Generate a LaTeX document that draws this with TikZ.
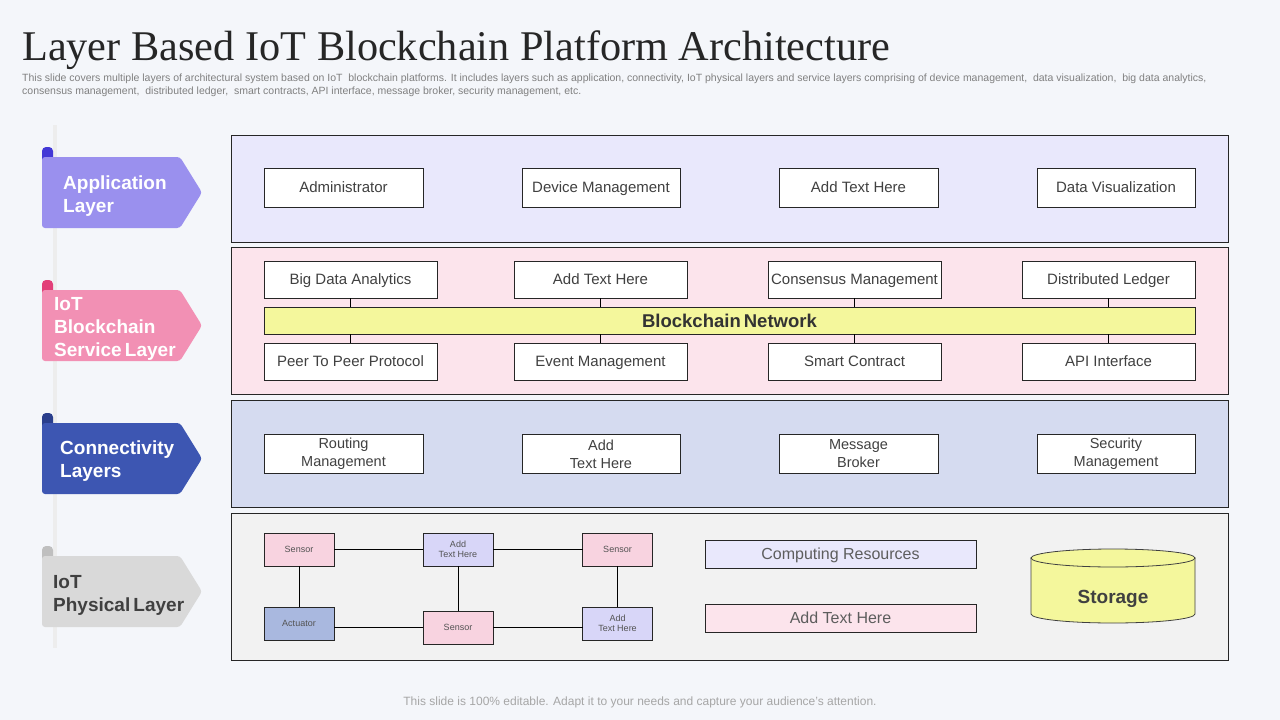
\documentclass[tikz,border=0pt]{standalone}
\usepackage{fontspec}
\setmainfont{Liberation Sans}
\newfontfamily\titlefont{Liberation Serif}
\definecolor{bgc}{HTML}{F4F6FA}
\definecolor{apptab}{HTML}{9A90EE}
\definecolor{apptop}{HTML}{4338D6}
\definecolor{apppan}{HTML}{E9E8FC}
\definecolor{svctab}{HTML}{F290B4}
\definecolor{svctop}{HTML}{E23F78}
\definecolor{svcpan}{HTML}{FCE4EC}
\definecolor{contab}{HTML}{3D56B2}
\definecolor{contop}{HTML}{2A3E8C}
\definecolor{conpan}{HTML}{D5DBF0}
\definecolor{phytab}{HTML}{D9D9D9}
\definecolor{phytop}{HTML}{BFBFBF}
\definecolor{phypan}{HTML}{F2F2F2}
\definecolor{ylw}{HTML}{F4F79C}
\definecolor{pinkb}{HTML}{F8D3E0}
\definecolor{lavb}{HTML}{D8D6F8}
\definecolor{actb}{HTML}{A9B8DF}
\definecolor{txt}{HTML}{404040}
\definecolor{titlec}{HTML}{262626}
\tikzset{
  panel/.style={draw=black!85, line width=0.9pt},
  wbox/.style={draw=black!85, line width=0.8pt, fill=white, text=txt, font=\fontsize{15}{17}\selectfont, align=center, inner sep=0pt, outer sep=0pt, minimum height=39pt},
  wone/.style={wbox, text height=10.8pt, text depth=0pt},
  sbox/.style={draw=black!85, line width=0.8pt, text=txt!90, font=\fontsize{9}{10.5}\selectfont, align=center, inner sep=0pt, outer sep=0pt, minimum width=70pt, minimum height=33pt},
  sone/.style={sbox, text height=6.5pt, text depth=0pt},
  conn/.style={draw=black, line width=0.8pt},
  tabtxt/.style={anchor=west, align=left, font=\bfseries\fontsize{19}{23}\selectfont, inner sep=0pt},
  widebox/.style={draw=black!85, line width=0.8pt, minimum width=271pt, minimum height=28pt, inner sep=0pt, text=txt!85, font=\fontsize{16}{18}\selectfont, text height=11.5pt, text depth=0pt},
}
\begin{document}
\begin{tikzpicture}[x=1pt,y=-1pt]
\useasboundingbox (0,0) rectangle (1280,720);
\fill[bgc] (0,0) rectangle (1280,720);
% rail
\fill[black!7] (53,125) rectangle (57,648);
% title
\node[anchor=base west, inner sep=0pt, text=titlec, font=\titlefont\fontsize{42.3}{46}\selectfont] (title) at (22,60) {Layer Based IoT Blockchain Platform Architecture};
\node[anchor=north west, inner sep=0pt, align=left, text=black!50, font=\fontsize{10.5}{13}\selectfont] (sub) at (22,73.5) {This slide covers multiple layers of architectural system based on IoT\ \ blockchain platforms. It includes layers such as application, connectivity, IoT physical layers and service layers comprising of device management,\ \ data visualization,\ \ big data analytics,\\consensus management,\ \ distributed ledger,\ \ smart contracts, API interface, message broker, security management, etc.};
\node[inner sep=0pt, text=black!35, font=\fontsize{12}{13}\selectfont, text height=8.6pt, text depth=0pt] (foot) at (640,701.5) {This slide is 100\% editable. Adapt it to your needs and capture your audience's attention.};
% tabs
\foreach \y/\tc/\bc in {157/apptop/apptab, 290/svctop/svctab, 423/contop/contab, 556/phytop/phytab}{
  \fill[\tc, rounded corners=4pt] (42,\y+6) -- (42,\y-10) -- (53,\y-10) -- (53,\y+6) -- cycle;
  \fill[\bc, rounded corners=3pt] (42,\y) -- (180,\y) -- (202,\y+35.5) -- (180,\y+71) -- (42,\y+71) -- cycle;
}
\node[tabtxt, text=white] (tapp) at (63,196.5) {Application\\Layer};
\node[tabtxt, text=white] (tsvc) at (54,328.5) {IoT\\Blockchain\\Service\,Layer};
\node[tabtxt, text=white] (tcon) at (60,461.5) {Connectivity\\Layers};
\node[tabtxt, text=txt] (tphy) at (53,595.5) {IoT\\Physical\,Layer};
% panels
\filldraw[panel, fill=apppan] (231,135) rectangle (1228,242);
\filldraw[panel, fill=svcpan] (231,247) rectangle (1228,394);
\filldraw[panel, fill=conpan] (231,400) rectangle (1228,507);
\filldraw[panel, fill=phypan] (231,513) rectangle (1228,660);
% application
\node[wone, minimum width=159pt] (adm) at (343.5,187.5) {Administrator};
\node[wone, minimum width=158pt] (dev) at (601,187.5) {Device Management};
\node[wone, minimum width=159pt] (at1) at (858.5,187.5) {Add Text Here};
\node[wone, minimum width=158pt] (dv) at (1116,187.5) {Data Visualization};
% service
\node[draw=black!85, line width=0.8pt, fill=ylw, minimum width=931pt, minimum height=27pt, inner sep=0pt, text=black!80, font=\bfseries\fontsize{18.5}{20}\selectfont, text height=13.3pt, text depth=0pt] (bcn) at (729.5,320.5) {Blockchain\,Network};
\node[wone, minimum width=173pt, minimum height=37pt] (bda) at (350.5,279.5) {Big Data Analytics};
\node[wone, minimum width=173pt, minimum height=37pt] (at2) at (600.5,279.5) {Add Text Here};
\node[wone, minimum width=173pt, minimum height=37pt] (csm) at (854.5,279.5) {Consensus Management};
\node[wone, minimum width=173pt, minimum height=37pt] (dl) at (1108.5,279.5) {Distributed Ledger};
\node[wone, minimum width=173pt, minimum height=37pt] (p2p) at (350.5,361.5) {Peer To Peer Protocol};
\node[wone, minimum width=173pt, minimum height=37pt] (evm) at (600.5,361.5) {Event Management};
\node[wone, minimum width=173pt, minimum height=37pt] (scn) at (854.5,361.5) {Smart Contract};
\node[wone, minimum width=173pt, minimum height=37pt] (api) at (1108.5,361.5) {API Interface};
\foreach \n in {bda,at2,csm,dl}{\draw[conn] (\n.south) -- (\n.south |- bcn.north);}
\foreach \n in {p2p,evm,scn,api}{\draw[conn] (\n.north) -- (\n.north |- bcn.south);}
% connectivity
\node[wbox, minimum width=159pt, font=\fontsize{14.5}{18}\selectfont] (rm) at (343.5,454) {Routing\\Management};
\node[wbox, minimum width=158pt, font=\fontsize{14.5}{18}\selectfont] (at3) at (601,454) {Add\\Text Here};
\node[wbox, minimum width=159pt, font=\fontsize{14.5}{18}\selectfont] (mb) at (858.5,454) {Message\\Broker};
\node[wbox, minimum width=158pt, font=\fontsize{14.5}{18}\selectfont] (sm) at (1116,454) {Security\\Management};
% physical
\node[sone, fill=pinkb] (s1) at (299,549.5) {Sensor};
\node[sbox, fill=lavb] (a1) at (458,549.5) {Add\\Text Here};
\node[sone, fill=pinkb] (s2) at (617.5,549.5) {Sensor};
\node[sone, fill=actb] (act) at (299,623.5) {Actuator};
\node[sone, fill=pinkb] (s3) at (458,627.5) {Sensor};
\node[sbox, fill=lavb] (a2) at (617.5,623.5) {Add\\Text Here};
\draw[conn] (s1) -- (a1);
\draw[conn] (a1) -- (s2);
\draw[conn] (s1) -- (act);
\draw[conn] (a1) -- (s3);
\draw[conn] (s2) -- (a2);
\draw[conn] (s3.west) -- (s3.west -| act.east);
\draw[conn] (s3.east) -- (s3.east -| a2.west);
\node[widebox, fill=apppan] (cr) at (840.5,554) {Computing Resources};
\node[widebox, fill=svcpan] (at4) at (840.5,618) {Add Text Here};
% storage
\filldraw[draw=black!75, line width=0.8pt, fill=ylw] (1031,558) -- (1031,614) arc[start angle=180, end angle=0, x radius=82, y radius=9] -- (1195,558) -- cycle;
\filldraw[draw=black!75, line width=0.8pt, fill=ylw] (1113,558) ellipse[x radius=82, y radius=9];
\node[inner sep=0pt, text=black!75, font=\bfseries\fontsize{19}{21}\selectfont, text height=13.7pt, text depth=0pt] (stor) at (1113,597) {Storage};
\end{tikzpicture}
\end{document}
